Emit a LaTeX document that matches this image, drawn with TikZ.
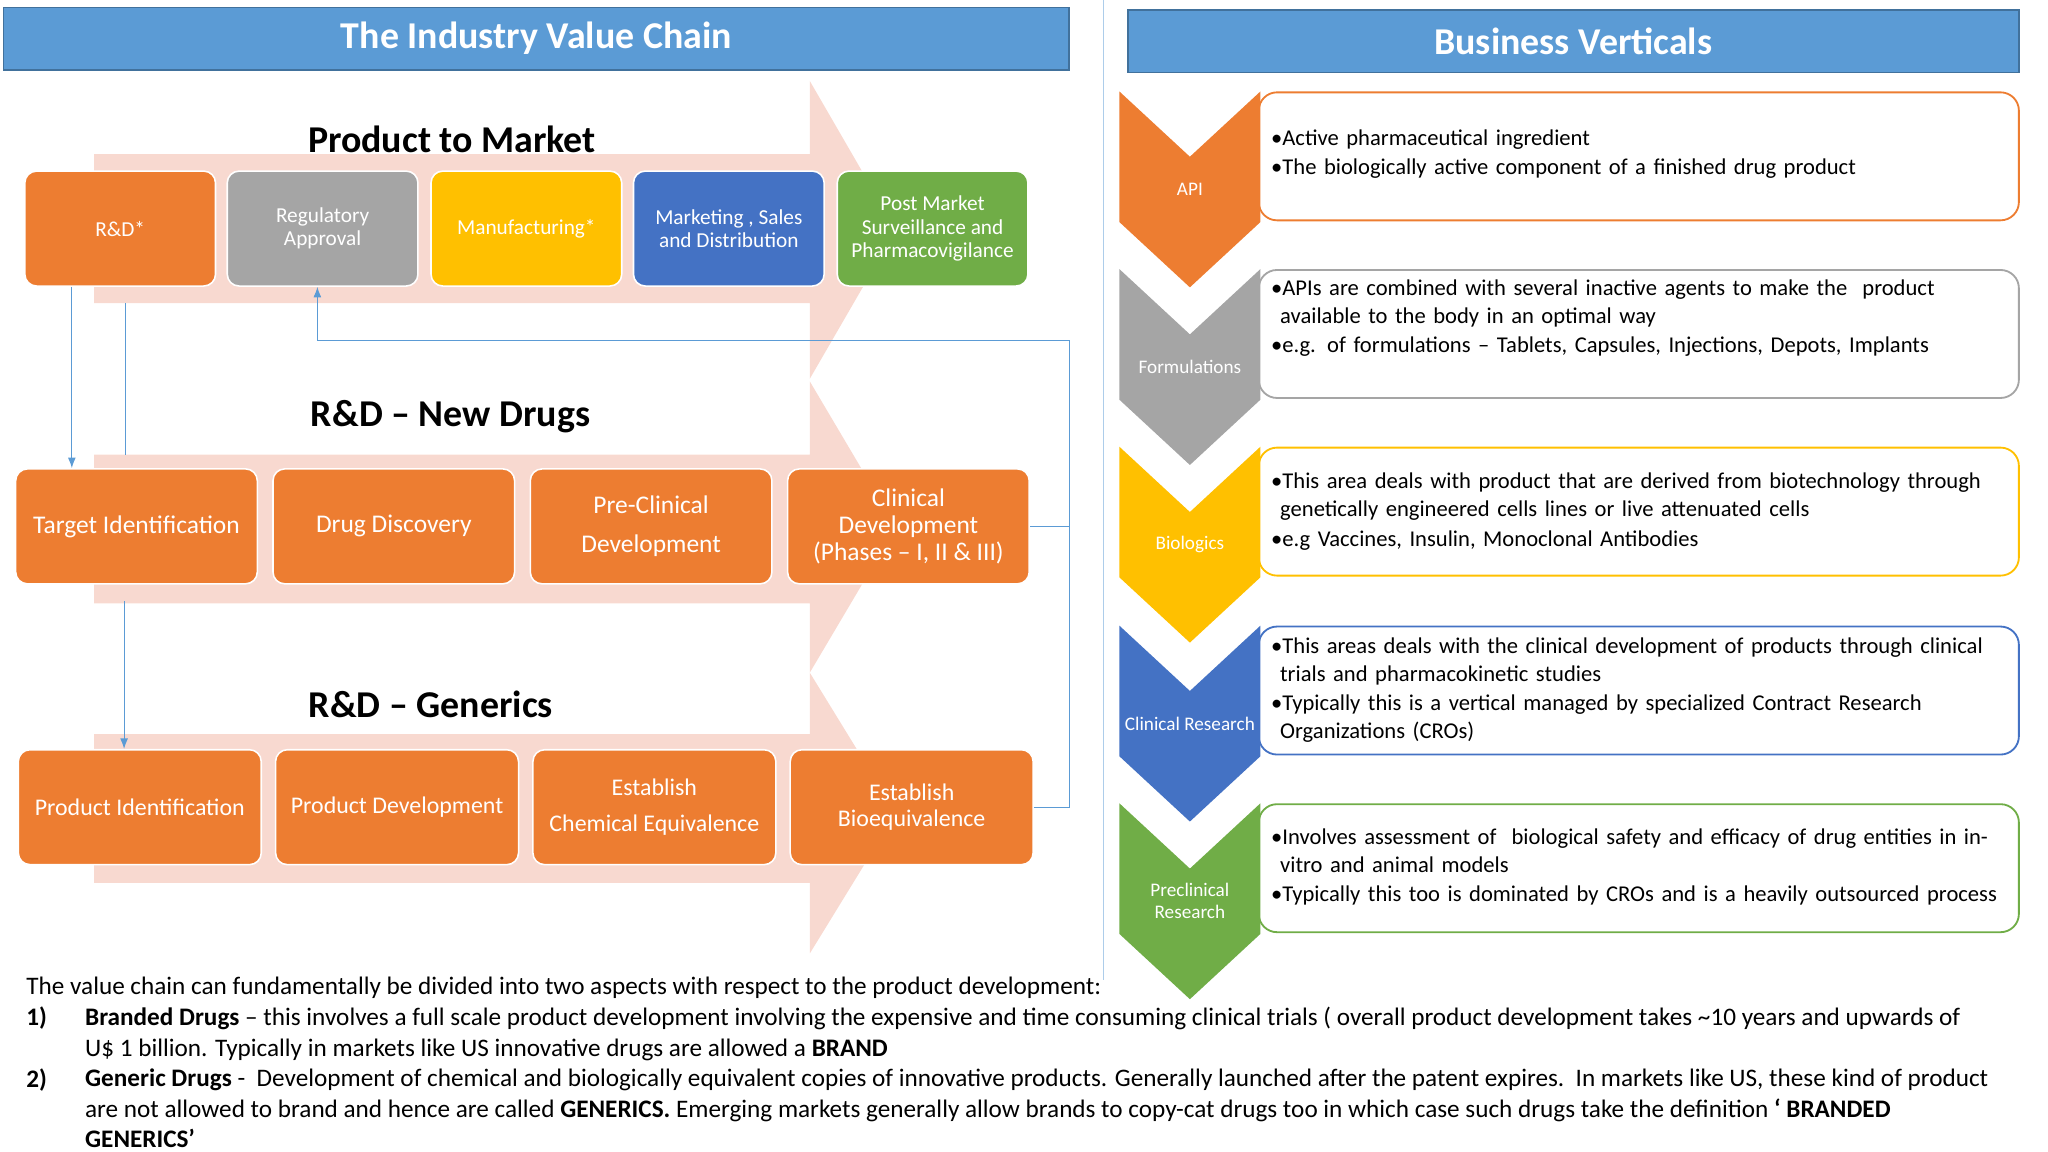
\documentclass[tikz,border=0pt]{standalone}
\usepackage{fontspec}
\setmainfont{Carlito}
\usepackage{xcolor}
\usetikzlibrary{arrows.meta,positioning,calc}
\definecolor{hdrBlue}{HTML}{5B9BD5}
\definecolor{hdrEdge}{HTML}{41719C}
\definecolor{vcOrange}{HTML}{ED7D31}
\definecolor{vcGray}{HTML}{A5A5A5}
\definecolor{vcYellow}{HTML}{FFC000}
\definecolor{vcBlue}{HTML}{4472C4}
\definecolor{vcGreen}{HTML}{70AD47}
\definecolor{bandPink}{HTML}{F8D9D0}

\begin{document}
\begin{tikzpicture}[x=1pt,y=-1pt,
hdr/.style={draw=hdrEdge, line width=1.2pt, fill=hdrBlue, text=white, font=\fontsize{29}{32}\selectfont\bfseries, minimum height=48pt, inner sep=0pt},
band/.style={fill=bandPink, draw=none},
stage/.style={draw=white, line width=1.2pt, rounded corners=9pt, text=white, align=center, minimum height=88pt, inner sep=1pt, font=\fontsize{16.3}{18}\selectfont},
stageL/.style={stage, font=\fontsize{19.5}{21}\selectfont},
stageG/.style={stage, font=\fontsize{18.3}{24}\selectfont},
ttl/.style={font=\fontsize{29}{32}\selectfont\bfseries},
desc/.style={draw, line width=1.4pt, fill=white, rounded corners=14pt, minimum width=582pt, minimum height=98pt, anchor=north west, inner sep=0pt},
dtext/.style={anchor=north west, align=left, text width=578pt, inner sep=0pt, font=\fontsize{17.3}{21.5}\selectfont},
vlab/.style={text=white, align=center, font=\fontsize{14.7}{17}\selectfont},
link/.style={draw=hdrBlue, line width=0.8pt},
arr/.style={link, -{Latex[length=8pt,width=6pt]}},
note/.style={anchor=north west, align=left, inner sep=0pt, font=\fontsize{19.3}{23.5}\selectfont}
]
\useasboundingbox (0,0) rectangle (1568,882);

% headers
\node[hdr, anchor=north west, minimum width=816pt] (hL) at (2,5) {The Industry Value Chain};
\node[hdr, anchor=north west, minimum width=682pt] (hR) at (863,7) {Business Verticals};
\draw[hdrBlue!50, line width=0.6pt] (845,0) -- (845,750);

% background arrows
\foreach \yb/\yh/\yt in {118/62/290, 348/292/515, 562/515/730}
  \fill[band] (72,\yb) -- (620,\yb) -- (620,\yh) -- (686,{(\yh+\yt)/2}) -- (620,\yt) -- (620,{\yb+114}) -- (72,{\yb+114}) -- cycle;

% Product to Market
\node[ttl] (tPM) at (346,107) {Product to Market};
\node[stage, fill=vcOrange, minimum width=146pt] (rd) at (92,175) {R\&D*};
\node[stage, fill=vcGray, minimum width=146pt] (reg) at (247,175) {Regulatory\\Approval};
\node[stage, fill=vcYellow, minimum width=146pt] (mfg) at (403,175) {Manufacturing*};
\node[stage, fill=vcBlue, minimum width=146pt] (mkt) at (558,175) {Marketing , Sales\\and Distribution};
\node[stage, fill=vcGreen, minimum width=146pt] (pms) at (714,175) {Post Market\\Surveillance and\\Pharmacovigilance};

% R&D - New Drugs
\node[ttl] (tND) at (345,319) {R\&D -- New Drugs};
\node[stageL, fill=vcOrange, minimum width=185pt] (tgt) at (104.5,403) {Target Identification};
\node[stageL, fill=vcOrange, minimum width=185pt] (dd) at (301.5,403) {Drug Discovery};
\node[stageL, fill=vcOrange, minimum width=185pt, font=\fontsize{19.5}{30}\selectfont] (pcd) at (498.5,403) {Pre-Clinical\\Development};
\node[stageL, fill=vcOrange, minimum width=185pt] (cd) at (695.5,403) {Clinical\\Development\\(Phases -- I, II \& III)};

% R&D - Generics
\node[ttl] (tGN) at (330,539) {R\&D -- Generics};
\node[stageG, fill=vcOrange, minimum width=186pt] (pid) at (107,618) {Product Identification};
\node[stageG, fill=vcOrange, minimum width=186pt] (pdv) at (304,618) {Product Development};
\node[stageG, fill=vcOrange, minimum width=186pt, font=\fontsize{18.3}{28}\selectfont] (ce) at (501,618) {Establish\\Chemical Equivalence};
\node[stageG, fill=vcOrange, minimum width=186pt, font=\fontsize{18.3}{20}\selectfont] (be) at (698,618) {Establish\\Bioequivalence};

% connectors
\coordinate (loopR) at (819,261);
\draw[arr] (rd.south -| 55,0) -- (tgt.north -| 55,0);
\draw[link] (96,232) -- (96,348);
\draw[arr] (95,460) -- (pid.north -| 95,0);
\draw[arr] (be.east) -| (loopR) -| (reg.south -| 243,0);
\draw[link] (cd.east) -- (cd.east -| loopR);

% business verticals
\foreach \nm/\col/\yy/\lab in {api/vcOrange/70/API, frm/vcGray/206/Formulations, bio/vcYellow/342/Biologics, cro/vcBlue/479/Clinical Research, pre/vcGreen/615/Preclinical\\Research} {
  \node[desc, draw=\col] (d\nm) at (963,\yy) {};
  \fill[\col] (857,\yy) -- (911,\yy+50) -- (965,\yy) -- (965,\yy+100) -- (911,\yy+150) -- (857,\yy+100) -- cycle;
  \node[vlab] (v\nm) at (911,\yy+75) {\lab};
}
\node[dtext] (tapi) at (973,99) {\textbullet Active pharmaceutical ingredient\\[1pt]\textbullet The biologically active component of a finished drug product};
\node[dtext] (tfrm) at (973,214) {\textbullet APIs are combined with several inactive agents to make the\ \ product\\\hspace*{0.4em}available to the body in an optimal way\\[1pt]\textbullet e.g. of formulations -- Tablets, Capsules, Injections, Depots, Implants};
\node[dtext] (tbio) at (973,362) {\textbullet This area deals with product that are derived from biotechnology through\\\hspace*{0.4em}genetically engineered cells lines or live attenuated cells\\[1pt]\textbullet e.g Vaccines, Insulin, Monoclonal Antibodies};
\node[dtext] (tcro) at (973,488) {\textbullet This areas deals with the clinical development of products through clinical\\\hspace*{0.4em}trials and pharmacokinetic studies\\[1pt]\textbullet Typically this is a vertical managed by specialized Contract Research\\\hspace*{0.4em}Organizations (CROs)};
\node[dtext] (tpre) at (973,634) {\textbullet Involves assessment of\ \ biological safety and efficacy of drug entities in in-\\\hspace*{0.4em}vitro and animal models\\[1pt]\textbullet Typically this too is dominated by CROs and is a heavily outsourced process};

% bottom notes
\node[note] (n0) at (20,748) {The value chain can fundamentally be divided into two aspects with respect to the product development:};
\node[note] (n1) at (20,771) {\textbf{1)}};
\node[note] (n1t) at (65,771) {\textbf{Branded Drugs} -- this involves a full scale product development involving the expensive and time consuming clinical trials ( overall product development takes \textasciitilde10 years and upwards of\\U\$ 1 billion. Typically in markets like US innovative drugs are allowed a \textbf{BRAND}};
\node[note] (n2) at (20,818) {\textbf{2)}};
\node[note] (n2t) at (65,818) {\textbf{Generic Drugs} -\ \ Development of chemical and biologically equivalent copies of innovative products. Generally launched after the patent expires.\ \ In markets like US, these kind of product\\are not allowed to brand and hence are called \textbf{GENERICS.} Emerging markets generally allow brands to copy-cat drugs too in which case such drugs take the definition \textbf{` BRANDED}\\\textbf{GENERICS'}};
\end{tikzpicture}
\end{document}
